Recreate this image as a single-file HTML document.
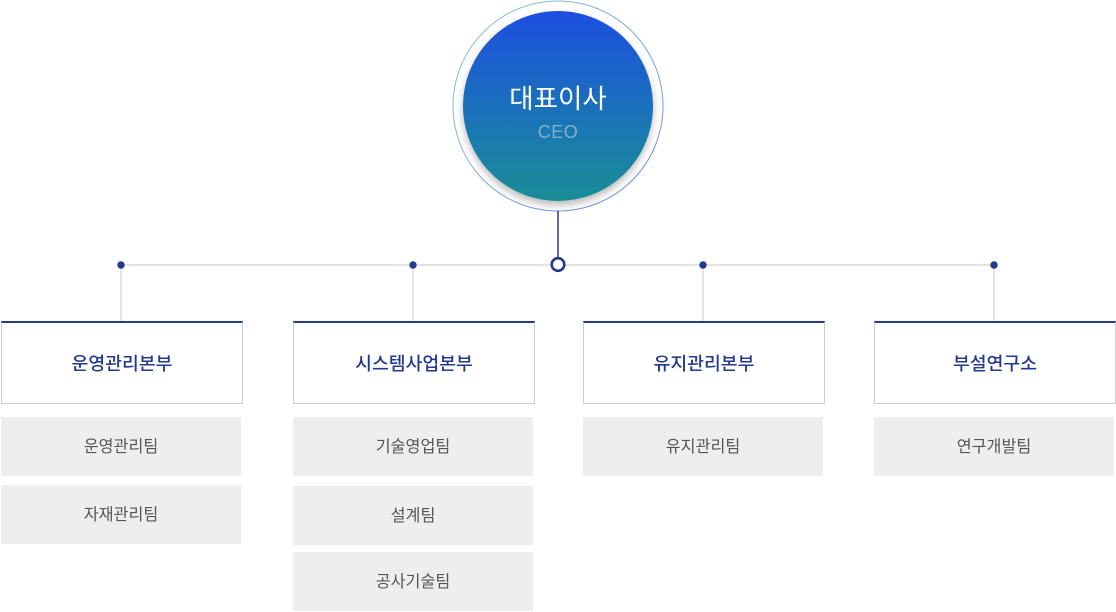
<!DOCTYPE html>
<html>
<head>
<meta charset="utf-8">
<style>
  html,body{margin:0;padding:0;background:#fff;}
  body{width:1116px;height:612px;position:relative;overflow:hidden;
    font-family:"Liberation Sans","Noto Sans CJK KR",sans-serif;}
  .box{position:absolute;top:321px;height:80px;width:240px;box-sizing:content-box;
    border:1px solid #cccccc;border-top:2px solid #233a8f;background:#fff;
    display:flex;align-items:center;justify-content:center;
    color:#233a8f;font-size:18.3px;font-weight:500;font-family:"Noto Sans CJK KR",sans-serif;}
  .sub{position:absolute;width:240px;height:59px;background:#eeeeee;box-sizing:border-box;padding-bottom:3px;
    display:flex;align-items:center;justify-content:center;
    color:#555555;font-size:16.2px;font-family:"Noto Sans CJK KR",sans-serif;}
  .ceo{position:absolute;left:463px;top:11px;width:190px;height:190px;border-radius:50%;
    background:linear-gradient(180deg,#1c4ee0 0%,#1b6dc0 45%,#198d96 100%);
    box-shadow:0 4px 8px rgba(0,0,0,0.28);}
  .t1{position:absolute;left:0;width:190px;top:69px;text-align:center;color:#fff;
    font-size:26.5px;line-height:34px;font-family:"Noto Sans CJK KR",sans-serif;}
  .t2{position:absolute;left:0;width:190px;top:110px;text-align:center;color:#7fb1cf;
    font-size:18px;line-height:22px;letter-spacing:0.5px;font-family:"Liberation Sans",sans-serif;}
</style>
</head>
<body>
<svg width="1116" height="612" style="position:absolute;left:0;top:0">
  <defs>
    <linearGradient id="ring" x1="0" y1="0" x2="1" y2="1">
      <stop offset="0" stop-color="#8cc6d6"/>
      <stop offset="1" stop-color="#6c8ee6"/>
    </linearGradient>
  </defs>
  <circle cx="558" cy="106" r="105" fill="#fff" stroke="url(#ring)" stroke-width="1"/>
  <line x1="121" y1="265" x2="994" y2="265" stroke="#c8c8c8" stroke-width="1"/>
  <line x1="121" y1="265" x2="121" y2="321" stroke="#c8c8c8" stroke-width="1"/>
  <line x1="413" y1="265" x2="413" y2="321" stroke="#c8c8c8" stroke-width="1"/>
  <line x1="703" y1="265" x2="703" y2="321" stroke="#c8c8c8" stroke-width="1"/>
  <line x1="994" y1="265" x2="994" y2="321" stroke="#c8c8c8" stroke-width="1"/>
  <circle cx="121" cy="265" r="3.7" fill="#233a8f"/>
  <circle cx="413" cy="265" r="3.7" fill="#233a8f"/>
  <circle cx="703" cy="265" r="3.7" fill="#233a8f"/>
  <circle cx="994" cy="265" r="3.7" fill="#233a8f"/>
  <line x1="558" y1="211" x2="558" y2="258" stroke="#233a8f" stroke-width="1.5"/>
  <circle cx="558" cy="264.5" r="6.3" fill="#fff" stroke="#233a8f" stroke-width="2.6"/>
</svg>

<div class="ceo">
  <div class="t1">대표이사</div>
  <div class="t2">CEO</div>
</div>

<div class="box" style="left:1px;">운영관리본부</div>
<div class="box" style="left:293px;">시스템사업본부</div>
<div class="box" style="left:583px;">유지관리본부</div>
<div class="box" style="left:874px;">부설연구소</div>

<div class="sub" style="left:1px;top:417px;">운영관리팀</div>
<div class="sub" style="left:1px;top:485px;">자재관리팀</div>

<div class="sub" style="left:293px;top:417px;">기술영업팀</div>
<div class="sub" style="left:293px;top:486px;">설계팀</div>
<div class="sub" style="left:293px;top:552px;">공사기술팀</div>

<div class="sub" style="left:583px;top:417px;">유지관리팀</div>

<div class="sub" style="left:874px;top:417px;">연구개발팀</div>
</body>
</html>
